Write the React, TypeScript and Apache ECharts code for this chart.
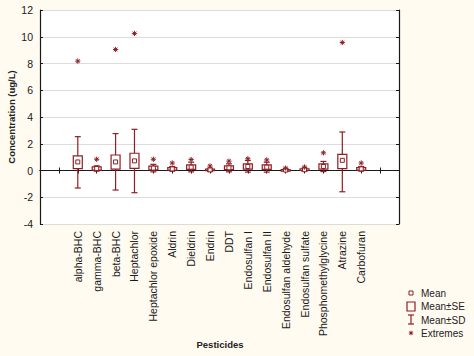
import React, { useEffect, useRef } from "react";
import * as echarts from "echarts";

const pesticides = [
  "alpha-BHC", "gamma-BHC", "beta-BHC", "Heptachlor", "Heptachlor epoxide", "Aldrin",
  "Dieldrin", "Endrin", "DDT", "Endosulfan I", "Endosulfan II", "Endosulfan aldehyde",
  "Endosulfan sulfate", "Phosphomethylglycine", "Atrazine", "Carbofuran",
];
const categories = ["", "", ...pesticides, "", ""];
const means = [0.64, 0.15, 0.64, 0.72, 0.18, 0.12, 0.25, 0.05, 0.2, 0.3, 0.25, 0.03, 0.06, 0.3, 0.76, 0.12];
const seLow = [0.14, 0.03, 0.11, 0.16, 0.04, 0.03, 0.08, 0.0, 0.06, 0.1, 0.08, -0.01, 0.0, 0.1, 0.14, 0.03];
const seHigh = [1.09, 0.27, 1.16, 1.29, 0.32, 0.22, 0.42, 0.1, 0.34, 0.5, 0.42, 0.07, 0.12, 0.5, 1.21, 0.22];
const sdLow = [-1.31, -0.05, -1.46, -1.66, -0.1, -0.05, -0.1, -0.08, -0.1, -0.12, -0.12, -0.05, -0.06, -0.08, -1.59, -0.05];
const sdHigh = [2.53, 0.35, 2.76, 3.08, 0.46, 0.3, 0.62, 0.17, 0.5, 0.75, 0.62, 0.11, 0.18, 0.68, 2.88, 0.3];
const extremes = [8.18, 0.84, 9.05, 10.25, 0.84, 0.56, 0.82, 0.34, 0.7, 0.88, 0.79, 0.18, 0.26, 1.32, 9.57, 0.56];
const yTicks = { min: -4, max: 12, interval: 2 };

const RED = "#8e1f24";
const BG = "#fffbf1";

function asterisk(cx: number, cy: number, r: number) {
  const s = r * 0.7;
  const style = { stroke: RED, lineWidth: 1 };
  return [
    { type: "line", shape: { x1: cx, y1: cy - r, x2: cx, y2: cy + r }, style },
    { type: "line", shape: { x1: cx - s, y1: cy - s, x2: cx + s, y2: cy + s }, style },
    { type: "line", shape: { x1: cx - s, y1: cy + s, x2: cx + s, y2: cy - s }, style },
    { type: "line", shape: { x1: cx - r, y1: cy, x2: cx + r, y2: cy }, style },
  ];
}

export default function App() {
  const ref = useRef<HTMLDivElement>(null);
  useEffect(() => {
    if (!ref.current) return;
    const chart = echarts.init(ref.current, null, { renderer: "svg" });
    const boxData = pesticides.map((_, i) => [i + 2, means[i], seLow[i], seHigh[i], sdLow[i], sdHigh[i]]);
    const extData = pesticides.map((_, i) => [i + 2, extremes[i]]);
    const lx = 411;
    const legendText = (y: number, t: string) => ({
      type: "text", x: 421, y, style: { text: t, font: "10px Arial", fill: "#222", verticalAlign: "middle" },
    });
    chart.setOption({
      animation: false,
      backgroundColor: BG,
      grid: { left: 40, top: 10, right: 75, bottom: 132, show: true, backgroundColor: "#fff", borderWidth: 0 },
      xAxis: [
        {
          type: "category", data: categories, boundaryGap: false, position: "bottom",
          axisLine: { lineStyle: { color: "#1a1a1a", width: 1.2 } },
          axisTick: { inside: true, length: 3, lineStyle: { color: "#1a1a1a" }, interval: 0 },
          axisLabel: { rotate: 90, interval: 0, fontSize: 10.5, fontFamily: "Arial", color: "#1a1a1a", margin: 7 },
          splitLine: { show: false },
        },
        {
          type: "category", data: categories, boundaryGap: false, position: "top",
          axisLine: { lineStyle: { color: "#1a1a1a", width: 1.2 } },
          axisTick: { inside: true, length: 3, lineStyle: { color: "#1a1a1a" }, interval: 0 },
          axisLabel: { show: false },
          splitLine: { show: false },
        },
      ],
      yAxis: [
        {
          type: "value", min: yTicks.min, max: yTicks.max, interval: yTicks.interval, position: "left",
          axisLine: { show: true, lineStyle: { color: "#1a1a1a", width: 1.2 } },
          axisTick: { show: true, inside: true, length: 3, lineStyle: { color: "#1a1a1a" } },
          axisLabel: { fontSize: 10.5, fontFamily: "Arial", color: "#1a1a1a", margin: 7 },
          splitLine: { show: true, lineStyle: { color: "#dcdcdc", width: 1 } },
        },
        {
          type: "value", min: yTicks.min, max: yTicks.max, interval: yTicks.interval, position: "right",
          axisLine: { show: true, lineStyle: { color: "#1a1a1a", width: 1.2 } },
          axisTick: { show: true, inside: true, length: 3, lineStyle: { color: "#1a1a1a" } },
          axisLabel: { show: false },
          splitLine: { show: false },
        },
      ],
      series: [
        {
          type: "custom",
          xAxisIndex: 0, yAxisIndex: 0,
          data: boxData,
          renderItem: (params: any, api: any) => {
            const idx = api.value(0);
            const x = api.coord([idx, 0])[0];
            const y = (v: number) => api.coord([idx, v])[1];
            const yMean = y(api.value(1));
            const ySeL = y(api.value(2));
            const ySeH = y(api.value(3));
            const ySdL = y(api.value(4));
            const ySdH = y(api.value(5));
            const style = { stroke: RED, lineWidth: 1.2, fill: "none" };
            const bw = 9;
            const cw = 6;
            return {
              type: "group",
              children: [
                { type: "line", shape: { x1: x, y1: ySdL, x2: x, y2: ySdH }, style },
                { type: "line", shape: { x1: x - cw / 2, y1: ySdL, x2: x + cw / 2, y2: ySdL }, style },
                { type: "line", shape: { x1: x - cw / 2, y1: ySdH, x2: x + cw / 2, y2: ySdH }, style },
                { type: "rect", shape: { x: x - bw / 2, y: ySeH, width: bw, height: Math.max(ySeL - ySeH, 1.5) }, style: { stroke: RED, lineWidth: 1.2, fill: "#fff" } },
                { type: "rect", shape: { x: x - 2, y: yMean - 2, width: 4, height: 4 }, style: { stroke: RED, lineWidth: 1, fill: "#fff" } },
              ],
            };
          },
        },
        {
          type: "custom",
          xAxisIndex: 0, yAxisIndex: 0,
          data: extData,
          renderItem: (params: any, api: any) => {
            const p = api.coord([api.value(0), api.value(1)]);
            return { type: "group", children: asterisk(p[0], p[1], 2.6) };
          },
        },
      ],
      graphic: [
        {
          type: "text", x: 11, y: 117, rotation: Math.PI / 2,
          style: { text: "Concentration (ug/L)", font: "bold 9.5px Arial", fill: "#222", align: "center", verticalAlign: "middle" },
        },
        {
          type: "text", x: 220, y: 344,
          style: { text: "Pesticides", font: "bold 9.5px Arial", fill: "#222", align: "center", verticalAlign: "middle" },
        },
        { type: "rect", shape: { x: lx - 2, y: 291, width: 4, height: 4 }, style: { stroke: RED, lineWidth: 1, fill: "#fff" } },
        { type: "rect", shape: { x: lx - 4, y: 302, width: 8, height: 9 }, style: { stroke: RED, lineWidth: 1.2, fill: "none" } },
        { type: "line", shape: { x1: lx, y1: 315, x2: lx, y2: 324 }, style: { stroke: RED, lineWidth: 1.2 } },
        { type: "line", shape: { x1: lx - 3, y1: 315, x2: lx + 3, y2: 315 }, style: { stroke: RED, lineWidth: 1.2 } },
        { type: "line", shape: { x1: lx - 3, y1: 324, x2: lx + 3, y2: 324 }, style: { stroke: RED, lineWidth: 1.2 } },
        { type: "group", children: asterisk(lx, 333, 2.2) },
        legendText(293, "Mean"),
        legendText(306.5, "Mean±SE"),
        legendText(320, "Mean±SD"),
        legendText(333, "Extremes"),
      ],
    });
    return () => chart.dispose();
  }, []);
  return <div ref={ref} style={{ position: "fixed", left: 0, top: 0, width: 474, height: 356 }} />;
}
